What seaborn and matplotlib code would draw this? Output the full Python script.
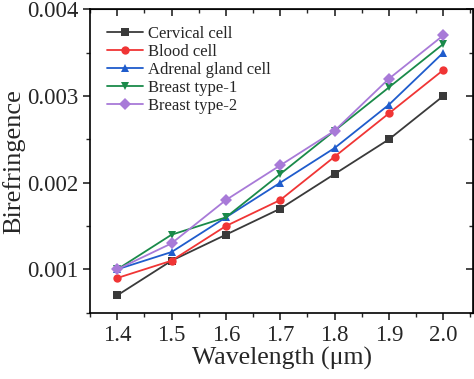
import numpy as np
import pandas as pd
import seaborn as sns
import matplotlib.pyplot as plt
from matplotlib.ticker import MultipleLocator

wavelength = [1.4, 1.5, 1.6, 1.7, 1.8, 1.9, 2.0]
cervical = [0.0007, 0.0011, 0.0014, 0.0017, 0.0021, 0.0025, 0.0030]
blood = [0.0009, 0.0011, 0.0015, 0.0018, 0.0023, 0.0028, 0.0033]
adrenal = [0.0010, 0.0012, 0.0016, 0.0020, 0.0024, 0.0029, 0.0035]
breast1 = [0.0010, 0.0014, 0.0016, 0.0021, 0.0026, 0.0031, 0.0036]
breast2 = [0.0010, 0.0013, 0.0018, 0.0022, 0.0026, 0.0032, 0.0037]

names = ["Cervical cell", "Blood cell", "Adrenal gland cell", "Breast type-1", "Breast type-2"]
series = [cervical, blood, adrenal, breast1, breast2]
colors = ["#3a3a3a", "#f03535", "#1f5ccc", "#1a8a4a", "#a87ad8"]
markers = ["s", "o", "^", "v", "D"]

df = pd.concat([pd.DataFrame({"x": wavelength, "y": s, "cell": n}) for n, s in zip(names, series)])

sns.set_style("ticks")
plt.rcParams["font.family"] = ["Liberation Serif", "DejaVu Serif"]

fig, ax = plt.subplots(figsize=(4.74, 3.79), dpi=100)
sns.lineplot(data=df, x="x", y="y", hue="cell", style="cell", palette=colors,
             markers=markers, dashes=False, markersize=6, linewidth=1.3,
             markeredgewidth=0, ax=ax)

ax.set_xlim(1.35, 2.055)
ax.set_ylim(0.0005, 0.004)
ax.set_xticks(wavelength)
ax.set_yticks([0.001, 0.002, 0.003, 0.004])
ax.set_yticklabels(["0.001", "0.002", "0.003", "0.004"])
ax.xaxis.set_minor_locator(MultipleLocator(0.05))
ax.yaxis.set_minor_locator(MultipleLocator(0.0005))
ax.tick_params(axis="both", which="major", direction="out", length=5, width=1.2, labelsize=16.5)
ax.tick_params(axis="x", which="major", pad=4)
ax.tick_params(axis="both", which="minor", direction="out", length=3, width=1.0)

for s in ax.spines.values():
    s.set_linewidth(1.2)
    s.set_color("black")

# inward ticks on top and right
top = ax.secondary_xaxis("top")
top.set_xticks(wavelength)
top.xaxis.set_minor_locator(MultipleLocator(0.05))
top.tick_params(which="major", direction="in", length=5, width=1.2, labeltop=False)
top.tick_params(which="minor", direction="in", length=3, width=1.0)
right = ax.secondary_yaxis("right")
right.set_yticks([0.001, 0.002, 0.003, 0.004])
right.yaxis.set_minor_locator(MultipleLocator(0.0005))
right.tick_params(which="major", direction="in", length=5, width=1.2, labelright=False)
right.tick_params(which="minor", direction="in", length=3, width=1.0)

ax.set_xlabel("Wavelength (\u03bcm)", fontsize=18.5)
ax.xaxis.set_label_coords(0.5, -0.112)
ax.set_ylabel("Birefringence", fontsize=19)
ax.yaxis.set_label_coords(-0.168, 0.5)
ax.legend(loc="upper left", frameon=False, fontsize=12, handlelength=2.2,
          handletextpad=0.3, labelspacing=0.12, borderaxespad=0.6)

fig.subplots_adjust(left=0.19, right=0.998, top=0.975, bottom=0.175)
fig.savefig("out.png", dpi=100)
